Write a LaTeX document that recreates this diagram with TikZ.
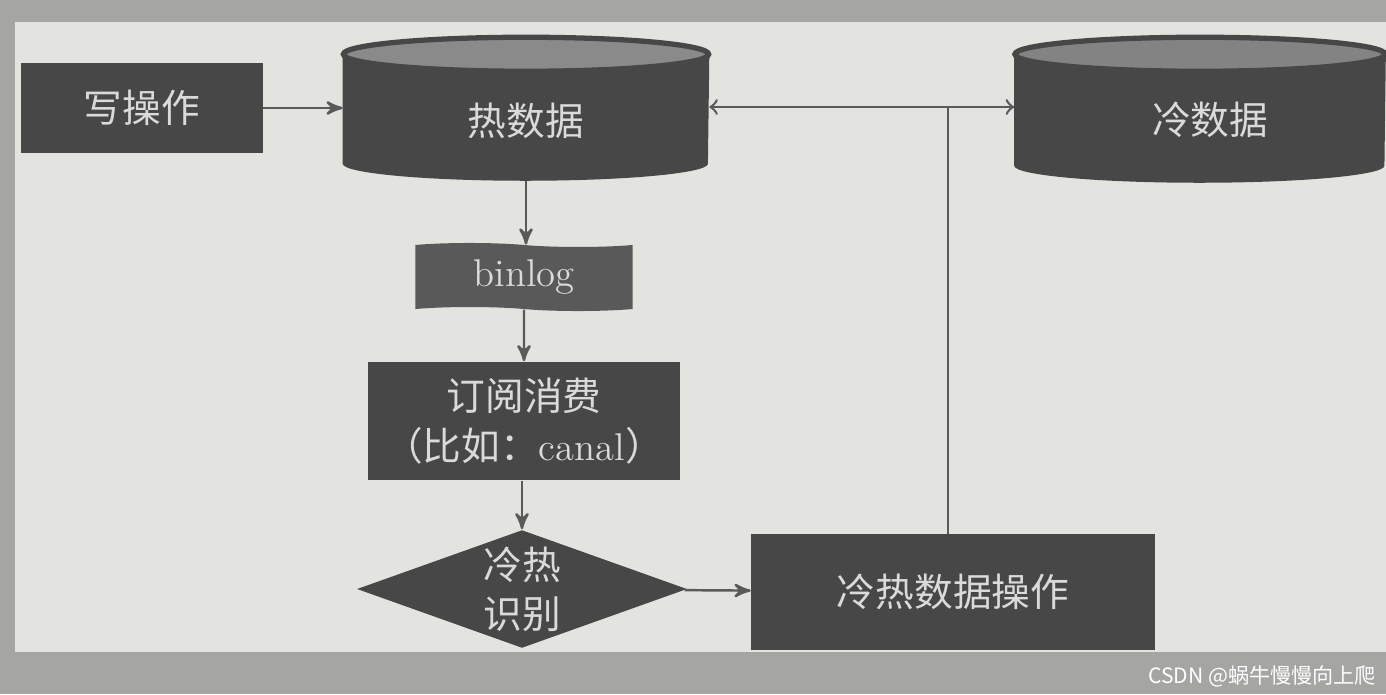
\documentclass[tikz,border=0pt]{standalone}
\usepackage{fontspec}
\newfontfamily\cjk{Noto Sans CJK SC}
\usetikzlibrary{arrows,positioning,calc,shapes.geometric,shapes.symbols}
\definecolor{ink}{HTML}{474747}
\definecolor{lid}{HTML}{8A8A8A}
\definecolor{paper}{HTML}{E3E3E0}
\definecolor{desk}{HTML}{A5A5A3}
\definecolor{wire}{HTML}{5A5A5A}
\definecolor{label}{HTML}{DADADA}

\begin{document}
\begin{tikzpicture}[x=0.01cm, y=-0.01cm, >=stealth', font=\fontsize{11}{14}\selectfont]
\tikzstyle{block}=[rectangle, fill=ink, text=label, inner sep=0pt, align=center]
\tikzstyle{drum}=[rectangle, inner sep=0pt]
\tikzstyle{link}=[->, draw=wire, line width=0.7pt]
% page and desk
\fill[desk] (0,0) rectangle (1386,694);
\fill[paper] (15,22) rectangle (1386,652);
\useasboundingbox (0,0) rectangle (1386,694);

% left column
\node[block, minimum width=2.41cm, minimum height=0.89cm] (write) at (142,108) {\cjk 写操作};
\node[drum, minimum width=3.65cm, minimum height=1.42cm] (hot) at (526,109) {};
\node[block, tape, tape bend top=out and in, tape bend bottom=out and in, tape bend height=0.04cm,
      fill=ink!90!white, minimum width=2.17cm, minimum height=0.68cm] (binlog) at (524,277) {binlog};
\node[block, minimum width=3.12cm, minimum height=1.18cm] (sub) at (524,421)
      {\cjk 订阅消费\\{\cjk （比如：}canal{\cjk ）}};
\node[block, diamond, aspect=2.8, minimum width=3.3cm, minimum height=1.18cm] (judge) at (522,589)
      {\cjk 冷热\\\cjk 识别};
\node[block, minimum width=4.03cm, minimum height=1.15cm] (op) at (953,592) {\cjk 冷热数据操作};
\node[drum, minimum width=3.7cm, minimum height=1.44cm] (cold) at (1200,110) {};

% cylinders
\fill[ink] ($(hot.north west)+(0,17)$) -- ($(hot.south west)+(0,-17)$)
    arc[start angle=180, end angle=360, x radius=1.825cm, y radius=0.17cm]
    -- ($(hot.north east)+(0,17)$) -- cycle;
\filldraw[fill=lid, draw=ink, line width=1.5pt] ($(hot.north)+(0,17)$) ellipse[x radius=1.825cm, y radius=0.17cm];
\fill[ink] ($(cold.north west)+(0,17)$) -- ($(cold.south west)+(0,-17)$)
    arc[start angle=180, end angle=360, x radius=1.85cm, y radius=0.17cm]
    -- ($(cold.north east)+(0,17)$) -- cycle;
\filldraw[fill=lid!90!ink, draw=ink, line width=1.5pt] ($(cold.north)+(0,17)$) ellipse[x radius=1.85cm, y radius=0.17cm];
\node[text=label] (hottext) at ($(hot)+(0,12)$) {\cjk 热数据};
\node[text=label] (coldtext) at ($(cold)+(10,10)$) {\cjk 冷数据};

% connectors
\draw[link] (write) -- (hot.west |- write);
\draw[link] (hot.south) -- (hot.south |- binlog.north);
\draw[link] (binlog) -- (sub);
\draw[link] (sub.south -| judge) -- (judge.north);
\draw[link] (judge) -- (op);
\draw[draw=wire, line width=0.7pt, to-to] (hot.east |- 0,107) -- (cold.west |- 0,107);
\draw[draw=wire, line width=0.7pt] (op.north -| 948,0) -- (948,107);

\node[text=white, font=\fontsize{6}{8}\selectfont] (mark) at (1262,676) {\cjk CSDN @蜗牛慢慢向上爬};
\end{tikzpicture}
\end{document}
